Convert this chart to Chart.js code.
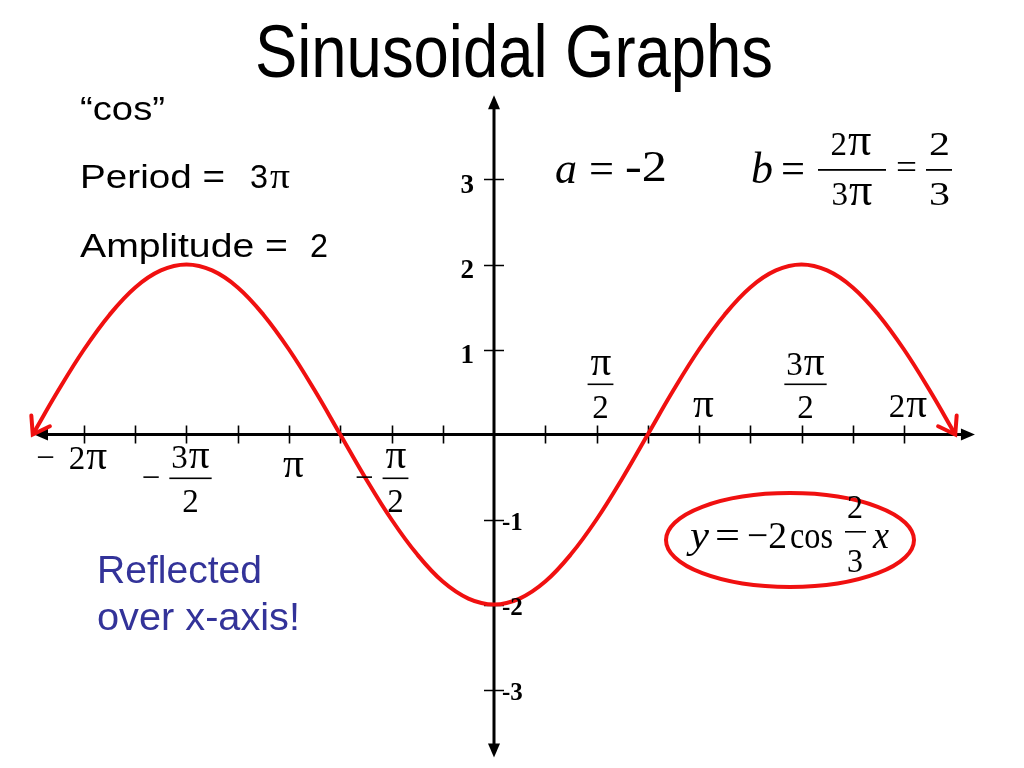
<!DOCTYPE html>
<html>
<head>
<meta charset="utf-8">
<title>Sinusoidal Graphs</title>
<script src="https://cdn.jsdelivr.net/npm/chart.js@4/dist/chart.umd.min.js"></script>
<style>
  html, body { margin: 0; padding: 0; background: #fff; }
  #wrap { width: 1024px; height: 768px; }
</style>
</head>
<body>
<div id="wrap"><canvas id="sinChart" width="1024" height="768"></canvas></div>
<script>
// x values are in units of pi
var curveX = [-2.25, -2.125, -2, -1.875, -1.75, -1.625, -1.5, -1.375, -1.25, -1.125, -1, -0.875, -0.75, -0.625, -0.5, -0.375, -0.25, -0.125, 0,
              0.125, 0.25, 0.375, 0.5, 0.625, 0.75, 0.875, 1, 1.125, 1.25, 1.375, 1.5, 1.625, 1.75, 1.875, 2, 2.125, 2.25];
var curveY = [0, 0.52, 1, 1.41, 1.73, 1.93, 2, 1.93, 1.73, 1.41, 1, 0.52, 0, -0.52, -1, -1.41, -1.73, -1.93, -2,
              -1.93, -1.73, -1.41, -1, -0.52, 0, 0.52, 1, 1.41, 1.73, 1.93, 2, 1.93, 1.73, 1.41, 1, 0.52, 0];

var xTickVals = [-2, -1.75, -1.5, -1.25, -1, -0.75, -0.5, -0.25, 0.25, 0.5, 0.75, 1, 1.25, 1.5, 1.75, 2];
var xLabelVals = [-2, -1.5, -1, -0.5, 0.5, 1, 1.5, 2];
var xLabelSign = ['\u2212', '\u2212', '', '\u2212', '', '', '', ''];
var xLabelNum = ['2\u03c0', '3\u03c0', '\u03c0', '\u03c0', '\u03c0', '\u03c0', '3\u03c0', '2\u03c0'];
var xLabelDen = ['', '2', '', '2', '2', '', '2', ''];

var yTickVals = [3, 2, 1, -1, -2, -3];
var yTickLabels = ['3', '2', '1', '-1', '-2', '-3'];

var RED = '#f01010';
var SANS = '"Liberation Sans", Arial, sans-serif';
var SERIF = '"Liberation Serif", "Times New Roman", serif';

// draw text with left edge x, baseline y; optionally stretch to width w
function put(ctx, s, x, y, font, color, w) {
    ctx.save();
    ctx.font = font;
    ctx.fillStyle = color || '#000';
    ctx.textAlign = 'left';
    ctx.textBaseline = 'alphabetic';
    var m = ctx.measureText(s).width;
    ctx.translate(x, y);
    if (w) ctx.scale(w / m, 1);
    ctx.fillText(s, 0, 0);
    ctx.restore();
}

// serif math text, pi drawn larger (like the Symbol font); returns width
function mathW(ctx, s, size, piK) {
    var w = 0;
    for (var i = 0; i < s.length; i++) {
        ctx.font = (s[i] === '\u03c0' ? size * piK : size) + 'px ' + SERIF;
        w += ctx.measureText(s[i]).width + (s[i] === '\u03c0' ? 1 : 0);
    }
    return w;
}
function math(ctx, s, x, y, size, piK, center) {
    piK = piK || 1.25;
    var w = mathW(ctx, s, size, piK);
    var cx = center ? x - w / 2 : x;
    ctx.save();
    ctx.fillStyle = '#000';
    ctx.textAlign = 'left';
    for (var i = 0; i < s.length; i++) {
        var isPi = s[i] === '\u03c0';
        ctx.font = (isPi ? size * piK : size) + 'px ' + SERIF;
        if (isPi) cx += 1;
        ctx.fillText(s[i], cx, y);
        cx += ctx.measureText(s[i]).width;
    }
    ctx.restore();
    return w;
}

function tri(ctx, x, y, ang, len, half) {
    ctx.save();
    ctx.translate(x, y);
    ctx.rotate(ang);
    ctx.beginPath();
    ctx.moveTo(0, 0);
    ctx.lineTo(-len, -half);
    ctx.lineTo(-len, half);
    ctx.closePath();
    ctx.fill();
    ctx.restore();
}

var axesPlugin = {
    id: 'axesPlugin',
    beforeDatasetsDraw: function (chart) {
        var ctx = chart.ctx;
        var xs = chart.scales.x, ys = chart.scales.y;
        var x0 = xs.getPixelForValue(0), y0 = ys.getPixelForValue(0);
        var left = xs.getPixelForValue(-2.244), right = xs.getPixelForValue(2.346);
        var top = ys.getPixelForValue(3.99), bottom = ys.getPixelForValue(-3.8);

        ctx.save();
        ctx.fillStyle = '#fff';
        ctx.fillRect(0, 0, chart.width, chart.height);
        ctx.strokeStyle = '#000';
        ctx.fillStyle = '#000';
        ctx.lineWidth = 3;
        ctx.beginPath();
        ctx.moveTo(left + 6, y0); ctx.lineTo(right - 6, y0);
        ctx.moveTo(x0, top + 6); ctx.lineTo(x0, bottom - 6);
        ctx.stroke();
        tri(ctx, right, y0, 0, 14, 6);
        tri(ctx, left, y0, Math.PI, 14, 6);
        tri(ctx, x0, top, -Math.PI / 2, 14, 6);
        tri(ctx, x0, bottom, Math.PI / 2, 14, 6);

        ctx.lineWidth = 1.6;
        ctx.beginPath();
        xTickVals.forEach(function (v) {
            var px = Math.round(xs.getPixelForValue(v)) + 0.5;
            ctx.moveTo(px, y0 - 9); ctx.lineTo(px, y0 + 9);
        });
        yTickVals.forEach(function (v) {
            var py = Math.round(ys.getPixelForValue(v)) + 0.5;
            ctx.moveTo(x0 - 10, py); ctx.lineTo(x0 + 10, py);
        });
        ctx.stroke();
        ctx.restore();
    },
    afterDatasetsDraw: function (chart) {
        var ctx = chart.ctx;
        var xs = chart.scales.x, ys = chart.scales.y;
        var x0 = xs.getPixelForValue(0), y0 = ys.getPixelForValue(0);

        // arrowheads on both ends of the curve
        var pts = chart.getDatasetMeta(0).data;
        [[pts[0], pts[1]], [pts[pts.length - 1], pts[pts.length - 2]]].forEach(function (pair) {
            var tip = pair[0], prev = pair[1];
            var ang = Math.atan2(prev.y - tip.y, prev.x - tip.x);
            ctx.save();
            ctx.strokeStyle = RED;
            ctx.lineWidth = 4;
            ctx.lineCap = 'round';
            ctx.beginPath();
            ctx.moveTo(tip.x + 19 * Math.cos(ang + 0.6), tip.y + 19 * Math.sin(ang + 0.6));
            ctx.lineTo(tip.x, tip.y);
            ctx.lineTo(tip.x + 19 * Math.cos(ang - 0.6), tip.y + 19 * Math.sin(ang - 0.6));
            ctx.stroke();
            ctx.restore();
        });

        // x labels
        var fs = 33;
        ctx.save();
        ctx.fillStyle = '#000';
        xLabelVals.forEach(function (v, i) {
            var cx = xs.getPixelForValue(v) + 4;
            var below = v < 0;
            var num = xLabelNum[i], den = xLabelDen[i], sign = xLabelSign[i];
            if (den) {
                var bw = Math.max(mathW(ctx, num, fs, 1.25), mathW(ctx, den, fs, 1.25)) + 4;
                var nb = below ? y0 + 33 : y0 - 60;
                var bar = below ? y0 + 44 : y0 - 50;
                var db = below ? y0 + 77 : y0 - 17;
                math(ctx, num, cx, nb, fs, 1.25, true);
                math(ctx, den, cx, db, fs, 1.25, true);
                ctx.fillRect(cx - bw / 2, bar - 1, bw, 1.6);
                if (sign) {
                    ctx.font = fs + 'px ' + SERIF;
                    ctx.fillText(sign, cx - bw / 2 - 9 - ctx.measureText(sign).width, bar + 9);
                }
            } else {
                var b = below ? (sign ? y0 + 34 : y0 + 42) : y0 - 18;
                var w = math(ctx, num, cx, b, fs, 1.25, true);
                if (sign) {
                    ctx.font = fs + 'px ' + SERIF;
                    ctx.fillText(sign, cx - w / 2 - 14 - ctx.measureText(sign).width, b - 1);
                }
            }
        });
        ctx.restore();

        // y labels
        yTickVals.forEach(function (v, i) {
            var py = ys.getPixelForValue(v);
            ctx.save();
            ctx.fillStyle = '#000';
            if (v > 0) {
                ctx.font = 'bold 27px ' + SERIF;
                ctx.textAlign = 'right';
                ctx.fillText(yTickLabels[i], x0 - 20, py + 13);
            } else {
                ctx.font = 'bold 25px ' + SERIF;
                ctx.textAlign = 'left';
                ctx.fillText(yTickLabels[i], x0 + 8, py + 10);
            }
            ctx.restore();
        });

        // slide text
        put(ctx, 'Sinusoidal Graphs', 255, 77, '75px ' + SANS, '#000', 518);
        put(ctx, '\u201ccos\u201d', 80, 120, '34px ' + SANS, '#000', 85);
        put(ctx, 'Period =', 80, 188, '33px ' + SANS, '#000', 145);
        put(ctx, '3', 250, 188, '33px ' + SANS, '#000', 18);
        put(ctx, '\u03c0', 270, 188, '36px ' + SERIF, '#000', 20);
        put(ctx, 'Amplitude =', 80, 257, '33px ' + SANS, '#000', 208);
        put(ctx, '2', 310, 257, '33px ' + SANS, '#000', 18);
        put(ctx, 'Reflected', 97, 583, '38px ' + SANS, '#333399', 165);
        put(ctx, 'over x-axis!', 97, 630, '38px ' + SANS, '#333399', 203);

        // a = -2
        put(ctx, 'a', 555, 183, 'italic 44px ' + SERIF, '#000');
        put(ctx, '=', 589, 183, '44px ' + SERIF, '#000', 25);
        put(ctx, '-2', 625, 181, '44px ' + SERIF, '#000', 42);
        // b = 2pi/3pi = 2/3
        put(ctx, 'b', 751, 183, 'italic 44px ' + SERIF, '#000');
        put(ctx, '=', 781, 183, '44px ' + SERIF, '#000', 24);
        math(ctx, '2\u03c0', 851, 155, 33, 1.4, true);
        math(ctx, '3\u03c0', 852, 205, 33, 1.4, true);
        ctx.fillStyle = '#000';
        ctx.fillRect(818, 169, 68, 1.8);
        put(ctx, '=', 896, 179, '36px ' + SERIF, '#000', 21);
        put(ctx, '2', 929, 155, '33px ' + SERIF, '#000', 21);
        put(ctx, '3', 929, 205, '33px ' + SERIF, '#000', 21);
        ctx.fillRect(926, 169, 26, 1.8);

        // boxed equation
        ctx.save();
        ctx.strokeStyle = RED;
        ctx.lineWidth = 4;
        ctx.beginPath();
        ctx.ellipse(790, 540, 124, 47, 0, 0, Math.PI * 2);
        ctx.stroke();
        ctx.restore();
        put(ctx, 'y', 690, 548, 'italic 38px ' + SERIF, '#000', 19);
        put(ctx, '=', 715, 548, '38px ' + SERIF, '#000', 25);
        put(ctx, '\u22122', 747, 548, '38px ' + SERIF, '#000', 40);
        put(ctx, 'cos', 790, 548, '38px ' + SERIF, '#000', 43);
        put(ctx, '2', 847, 518, '33px ' + SERIF, '#000', 16);
        put(ctx, '3', 847, 572, '33px ' + SERIF, '#000', 16);
        ctx.fillStyle = '#000';
        ctx.fillRect(845, 531, 21, 1.6);
        put(ctx, 'x', 873, 548, 'italic 38px ' + SERIF, '#000', 16);
    }
};

var ctx = document.getElementById('sinChart');
var sinChart = new Chart(ctx, {
    type: 'line',
    data: {
        datasets: [{
            label: 'y = -2cos(2x/3)',
            data: curveX.map(function (x, i) { return { x: x, y: curveY[i] }; }),
            borderColor: RED,
            borderWidth: 4,
            pointRadius: 0,
            tension: 0.4,
            fill: false
        }]
    },
    options: {
        responsive: false,
        animation: false,
        layout: { padding: 0 },
        plugins: {
            legend: { display: false },
            tooltip: { enabled: false }
        },
        scales: {
            x: { type: 'linear', display: false, min: -494 / 205, max: 530 / 205 },
            y: { type: 'linear', display: false, min: -333.5 / 85, max: 434.5 / 85 }
        }
    },
    plugins: [axesPlugin]
});
</script>
</body>
</html>
